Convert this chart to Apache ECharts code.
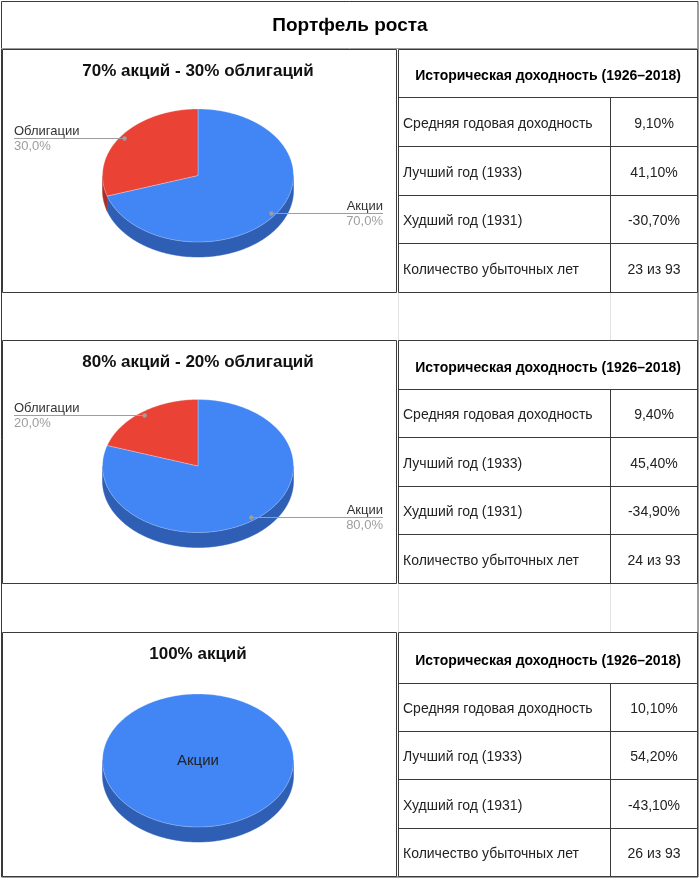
<!DOCTYPE html>
<html><head><meta charset="utf-8">
<script src="https://cdn.jsdelivr.net/npm/echarts@6/dist/echarts.min.js"></script>
<style>html,body{margin:0;padding:0;background:#fff}#c{width:700px;height:878px}</style>
</head><body><div id="c"></div>
<script>
// ---- data ----
const pageTitle = 'Портфель роста';
const chartTitles = ['70% акций - 30% облигаций', '80% акций - 20% облигаций', '100% акций'];
const categories = ['Акции', 'Облигации'];
const pie1 = [70, 30];
const pie2 = [80, 20];
const pie3 = [100, 0];
const tableHeader = 'Историческая доходность (1926–2018)';
const rowLabels = ['Средняя годовая доходность', 'Лучший год (1933)', 'Худший год (1931)', 'Количество убыточных лет'];
const table1 = ['9,10%', '41,10%', '-30,70%', '23 из 93'];
const table2 = ['9,40%', '45,40%', '-34,90%', '24 из 93'];
const table3 = ['10,10%', '54,20%', '-43,10%', '26 из 93'];

// ---- styles / layout ----
const FONT = '"Liberation Sans", Arial, sans-serif';
const topColors = ['#4285f4', '#ea4335'];
const sideColors = ['#2f5fb4', '#a8302a'];
const LINE = '#3a3a3a';
const CX = 198, RX = 95.5, RY = 66.5, DEPTH = 15;
const blocks = [
  { rows: [49, 97, 146, 195, 243, 292], cy: 175.5, pie: pie1, table: table1 },
  { rows: [340, 389, 437, 486, 534, 583], cy: 466, pie: pie2, table: table2 },
  { rows: [632, 683, 731, 779, 828, 876], cy: 760.5, pie: pie3, table: table3 }
];

function txt(text, x, y, opt) {
  opt = opt || {};
  const align = opt.align || 'left', va = opt.va || 'middle';
  return {
    type: 'text', silent: true, z: 10,
    style: {
      text: text, x: x, y: y,
      fill: opt.color || '#222',
      font: (opt.bold ? 'bold ' : '') + (opt.size || 14) + 'px ' + FONT,
      align: align, verticalAlign: va, textAlign: align, textVerticalAlign: va
    }
  };
}
function ln(x1, y1, x2, y2, color, w) {
  return { type: 'line', silent: true, z: 5, shape: { x1: x1, y1: y1, x2: x2, y2: y2 },
    style: { stroke: color || LINE, lineWidth: w || 1 } };
}
function rect(x, y, w, h, color) {
  return { type: 'rect', silent: true, z: 5, shape: { x: x, y: y, width: w, height: h },
    style: { fill: 'none', stroke: color || LINE, lineWidth: 1 } };
}

const graphics = [];
// outer frame and header
graphics.push(rect(1.5, 1.5, 696.5, 875.5));
graphics.push(ln(1, 48.5, 698, 48.5, '#9a9a9a'));
graphics.push(txt(pageTitle, 350, 26, { bold: true, size: 19, align: 'center', color: '#000' }));

blocks.forEach(function (b, bi) {
  const r = b.rows;
  const top = r[0], bottom = r[5];
  // chart box
  graphics.push(rect(2.5, top + 0.5, 394, bottom - top));
  graphics.push(txt(chartTitles[bi], CX, top + 22, { bold: true, size: 17, align: 'center', color: '#111' }));
  // table
  graphics.push(rect(398.5, top + 0.5, 299, bottom - top));
  for (let k = 1; k < 5; k++) graphics.push(ln(398, r[k] + 0.5, 698, r[k] + 0.5));
  graphics.push(ln(610.5, r[1], 610.5, bottom));
  graphics.push(txt(tableHeader, 548, (r[0] + r[1]) / 2 + 3.5, { bold: true, size: 14, align: 'center', color: '#000' }));
  for (let k = 0; k < 4; k++) {
    const yc = (r[k + 1] + r[k + 2]) / 2 + 2.5;
    graphics.push(txt(rowLabels[k], 403, yc, { size: 14, color: '#222' }));
    graphics.push(txt(b.table[k], 654, yc, { size: 14, color: '#222', align: 'center' }));
  }
  // spacer grid lines
  if (bi < 2) {
    const nt = blocks[bi + 1].rows[0];
    graphics.push(ln(398.5, bottom + 1, 398.5, nt, '#e3e3e3'));
    graphics.push(ln(610.5, bottom + 1, 610.5, nt, '#e3e3e3'));
  }
});

function pieSeries(values, cy) {
  const total = values.reduce(function (a, c) { return a + c; }, 0);
  return {
    type: 'custom',
    coordinateSystem: 'none',
    silent: true,
    data: values.map(function (v, i) { return { name: categories[i], value: v }; }),
    renderItem: function (params, api) {
      const i = params.dataIndex;
      const v = api.value(0);
      if (!v) return null;
      let start = 0;
      for (let k = 0; k < i; k++) start += values[k];
      const a0 = start / total * 2 * Math.PI, a1 = (start + v) / total * 2 * Math.PI;
      const pt = function (a, f, dy) {
        f = f == null ? 1 : f; dy = dy || 0;
        return [CX + RX * f * Math.sin(a), cy - RY * f * Math.cos(a) + dy];
      };
      const full = v >= total;
      const children = [];
      // side wall (front half only)
      const w0 = Math.max(a0, Math.PI / 2), w1 = Math.min(a1, 1.5 * Math.PI);
      if (w1 > w0) {
        const M = Math.max(2, Math.ceil((w1 - w0) / (Math.PI / 120)));
        const wall = [];
        for (let s = 0; s <= M; s++) wall.push(pt(w0 + (w1 - w0) * s / M));
        for (let s = M; s >= 0; s--) wall.push(pt(w0 + (w1 - w0) * s / M, 1, DEPTH));
        children.push({ type: 'polygon', z2: 1, shape: { points: wall },
          style: { fill: sideColors[i], stroke: sideColors[i], lineWidth: 0.5 } });
      }
      // top face
      const N = Math.max(2, Math.ceil((a1 - a0) / (Math.PI / 120)));
      const face = [];
      if (!full) face.push([CX, cy]);
      for (let s = 0; s <= N; s++) face.push(pt(a0 + (a1 - a0) * s / N));
      children.push({ type: 'polygon', z2: 5, shape: { points: face },
        style: { fill: topColors[i], stroke: 'rgba(255,255,255,0.45)', lineWidth: 0.6 } });
      // labels
      if (full) {
        children.push({ type: 'text', z2: 8, style: { text: categories[i], x: CX, y: cy,
          fill: '#222', font: '15px ' + FONT, align: 'center', verticalAlign: 'middle',
          textAlign: 'center', textVerticalAlign: 'middle' } });
      } else {
        const mid = (a0 + a1) / 2;
        const d = pt(mid, 0.95);
        const left = mid > Math.PI;
        const ex = left ? 14 : 383;
        const y = Math.round(d[1]) + 0.5;
        const pct = (v / total * 100).toFixed(1).replace('.', ',') + '%';
        const al = left ? 'left' : 'right';
        children.push({ type: 'line', z2: 8, shape: { x1: d[0], y1: y, x2: ex, y2: y },
          style: { stroke: '#9e9e9e', lineWidth: 1 } });
        children.push({ type: 'circle', z2: 9, shape: { cx: d[0], cy: y, r: 2.2 },
          style: { fill: '#9e9e9e' } });
        children.push({ type: 'text', z2: 9, style: { text: categories[i], x: ex, y: y - 1,
          fill: '#333', font: '13px ' + FONT, align: al, verticalAlign: 'bottom',
          textAlign: al, textVerticalAlign: 'bottom' } });
        children.push({ type: 'text', z2: 9, style: { text: pct, x: ex, y: y + 1.5,
          fill: '#9e9e9e', font: '13px ' + FONT, align: al, verticalAlign: 'top',
          textAlign: al, textVerticalAlign: 'top' } });
      }
      return { type: 'group', children: children };
    }
  };
}

const chart = echarts.init(document.getElementById('c'), null, { renderer: 'canvas' });
chart.setOption({
  animation: false,
  backgroundColor: '#fff',
  graphic: { elements: graphics },
  series: blocks.map(function (b) { return pieSeries(b.pie, b.cy); })
});
</script>
</body></html>
